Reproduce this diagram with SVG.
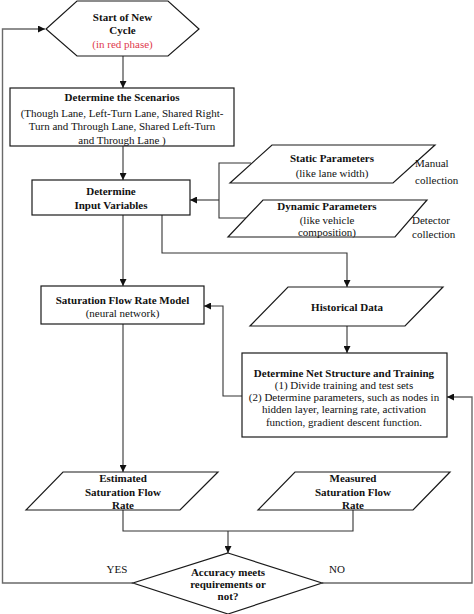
<svg xmlns="http://www.w3.org/2000/svg" width="474" height="614" viewBox="0 0 474 614">
<style>
  .shape { fill: #ffffff; stroke: #1a1a1a; stroke-width: 1.2; }
  .conn { fill: none; stroke: #333333; stroke-width: 1.1; }
  .gray { fill: none; stroke: #6a6a6a; stroke-width: 1.4; }
  text { font-family: 'Liberation Serif', 'DejaVu Serif', serif; font-size: 11px; fill: #111111; text-anchor: middle; }
  .b { font-weight: bold; }
  .red { fill: #e03a4e; }
  .lbl { text-anchor: start; }
</style>
<defs>
  <marker id="arr" viewBox="0 0 10 10" refX="10" refY="5" markerWidth="7" markerHeight="7" markerUnits="userSpaceOnUse" orient="auto">
    <path d="M0,0 L10,5 L0,10 z" fill="#111111"/>
  </marker>
</defs>
<rect x="0" y="0" width="474" height="614" fill="#ffffff"/>

<g id="connectors">
  <path class="conn" d="M123,56 V88" marker-end="url(#arr)"/>
  <path class="conn" d="M123,146 V180" marker-end="url(#arr)"/>
  <path class="conn" d="M251,163 H219 V218 H246"/>
  <path class="conn" d="M219,200 H190" marker-end="url(#arr)"/>
  <path class="conn" d="M162,215 V253 H347 V287" marker-end="url(#arr)"/>
  <path class="conn" d="M123,215 V286" marker-end="url(#arr)"/>
  <path class="conn" d="M347,326 V353" marker-end="url(#arr)"/>
  <path class="conn" d="M242,396 H223 V306 H204" marker-end="url(#arr)"/>
  <path class="conn" d="M123,324 V472" marker-end="url(#arr)"/>
  <path class="conn" d="M123,510 V531 H353 V510"/>
  <path class="conn" d="M228,531 V553" marker-end="url(#arr)"/>
  <path class="gray" d="M133,583 H2.5 V29 H45" marker-end="url(#arr)"/>
  <path class="gray" d="M322,583 H472 V397 H447" marker-end="url(#arr)"/>
  <text x="117" y="573" font-family="Liberation Serif">YES</text>
  <text x="337" y="573" font-family="Liberation Serif">NO</text>
</g>

<g id="start">
  <polygon class="shape" points="77,1 168,1 199,29 168,56 77,56 46,29"/>
  <text class="b" x="122.5" y="21">Start of New</text>
  <text class="b" x="122.5" y="34">Cycle</text>
  <text class="red" x="122.5" y="48">(in red phase)</text>
</g>

<g id="scenarios">
  <rect class="shape" x="10" y="88" width="224" height="58"/>
  <text class="b" x="122" y="100.5">Determine the Scenarios</text>
  <text x="122" y="116.5">(Though Lane, Left-Turn Lane, Shared Right-</text>
  <text x="122" y="130">Turn and Through Lane,  Shared Left-Turn</text>
  <text x="122" y="143.5">and Through Lane )</text>
</g>

<g id="input">
  <rect class="shape" x="32" y="180" width="158" height="35"/>
  <text class="b" x="111" y="195">Determine</text>
  <text class="b" x="111" y="209">Input Variables</text>
</g>

<g id="static">
  <polygon class="shape" points="272,145 435,145 393,183 230,183"/>
  <text class="b" x="332" y="162">Static Parameters</text>
  <text x="332" y="177">(like lane width)</text>
  <text class="lbl" x="415" y="167">Manual</text>
  <text class="lbl" x="415" y="184">collection</text>
</g>

<g id="dynamic">
  <polygon class="shape" points="263,200 427,200 395,237 228,237"/>
  <text class="b" x="327" y="210">Dynamic Parameters</text>
  <text x="327" y="224">(like vehicle</text>
  <text x="327" y="236">composition)</text>
  <text class="lbl" x="412" y="224">Detector</text>
  <text class="lbl" x="412" y="238">collection</text>
</g>

<g id="model">
  <rect class="shape" x="41" y="286" width="163" height="38"/>
  <text class="b" x="122.5" y="304">Saturation Flow Rate Model</text>
  <text x="122.5" y="317">(neural network)</text>
</g>

<g id="historical">
  <polygon class="shape" points="288,287 443,287 405,326 250,326"/>
  <text class="b" x="347" y="311">Historical Data</text>
</g>

<g id="training">
  <rect class="shape" x="242" y="353" width="205" height="84"/>
  <text class="b" x="344" y="377">Determine Net Structure and Training</text>
  <text x="344" y="389">(1) Divide training and test sets</text>
  <text x="344" y="401">(2) Determine parameters, such as nodes in</text>
  <text x="344" y="413">hidden layer, learning rate, activation</text>
  <text x="344" y="426">function, gradient descent function.</text>
</g>

<g id="estimated">
  <polygon class="shape" points="63,472 218,472 180,510 26,510"/>
  <text class="b" x="123" y="482">Estimated</text>
  <text class="b" x="123" y="496">Saturation Flow</text>
  <text class="b" x="123" y="509">Rate</text>
</g>

<g id="measured">
  <polygon class="shape" points="295,472 450,472 413,510 258,510"/>
  <text class="b" x="353" y="482">Measured</text>
  <text class="b" x="353" y="496">Saturation Flow</text>
  <text class="b" x="353" y="509">Rate</text>
</g>

<g id="decision">
  <polygon class="shape" points="228,553 322,583 228,614 133,583"/>
  <text class="b" x="228" y="576">Accuracy meets</text>
  <text class="b" x="228" y="587.5">requirements or</text>
  <text class="b" x="228" y="600">not?</text>
</g>
</svg>
